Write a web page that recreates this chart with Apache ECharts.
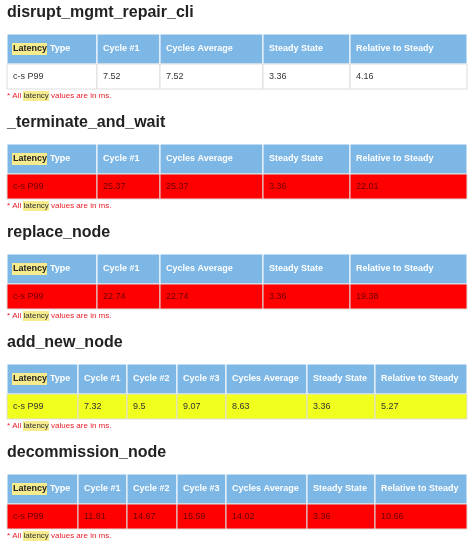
<!DOCTYPE html>
<html><head><meta charset="utf-8">
<script src="https://cdn.jsdelivr.net/npm/echarts@6/dist/echarts.min.js"></script>
<style>html,body{margin:0;background:#fff}#c{width:474px;height:553px}</style>
</head><body><div id="c"></div>
<script>
var titles = ['disrupt_mgmt_repair_cli', '_terminate_and_wait', 'replace_node', 'add_new_node', 'decommission_node'];
var headers5 = ['Latency Type', 'Cycle #1', 'Cycles Average', 'Steady State', 'Relative to Steady'];
var headers7 = ['Latency Type', 'Cycle #1', 'Cycle #2', 'Cycle #3', 'Cycles Average', 'Steady State', 'Relative to Steady'];
var rowValues = [
  ['c-s P99', '7.52', '7.52', '3.36', '4.16'],
  ['c-s P99', '25.37', '25.37', '3.36', '22.01'],
  ['c-s P99', '22.74', '22.74', '3.36', '19.38'],
  ['c-s P99', '7.32', '9.5', '9.07', '8.63', '3.36', '5.27'],
  ['c-s P99', '11.81', '14.67', '15.59', '14.02', '3.36', '10.66']
];
var rowColors = ['#ffffff', '#ff0000', '#ff0000', '#f0ff1e', '#ff0000'];

var widths5 = [90, 63, 103, 87, 117];
var widths7 = [71, 49, 50, 49, 81, 68, 92];
var font = 'Liberation Sans, Arial, sans-serif';

var g = [];
titles.forEach(function (t, s) {
  var top = s * 110;
  var hdr = rowValues[s].length === 5 ? headers5 : headers7;
  var ws = rowValues[s].length === 5 ? widths5 : widths7;
  g.push({type: 'text', left: 7, top: top + 5, style: {text: t, font: 'bold 16px ' + font, fill: '#222'}});
  var x = 7;
  hdr.forEach(function (h, i) {
    var w = ws[i];
    g.push({type: 'rect', shape: {x: x, y: top + 34, width: w, height: 30}, style: {fill: '#7db7e6', stroke: '#ffffff', lineWidth: 1}});
    g.push({type: 'rect', shape: {x: x, y: top + 64, width: w, height: 25}, style: {fill: rowColors[s], stroke: '#dddddd', lineWidth: 1}});
    if (i === 0) {
      g.push({type: 'rect', shape: {x: x + 5, y: top + 43, width: 35, height: 12}, style: {fill: '#f6ec8e'}});
      g.push({type: 'text', x: x + 6, y: top + 49, style: {text: 'Latency', font: 'bold 9px ' + font, fill: '#222', verticalAlign: 'middle'}});
      g.push({type: 'text', x: x + 43, y: top + 49, style: {text: 'Type', font: 'bold 9px ' + font, fill: '#ffffff', verticalAlign: 'middle'}});
    } else {
      g.push({type: 'text', x: x + 6, y: top + 49, style: {text: h, font: 'bold 9px ' + font, fill: '#ffffff', verticalAlign: 'middle'}});
    }
    g.push({type: 'text', x: x + 6, y: top + 77, style: {text: rowValues[s][i], font: '9px ' + font, fill: rowColors[s] === '#ff0000' ? '#6a0000' : '#333', verticalAlign: 'middle'}});
    x += w;
  });
  g.push({type: 'text', x: 7, y: top + 96, style: {text: '* All', font: '8px ' + font, fill: '#e8202a', verticalAlign: 'middle'}});
  g.push({type: 'rect', shape: {x: 23, y: top + 91, width: 26, height: 10}, style: {fill: '#f6ec8e'}});
  g.push({type: 'text', x: 23.5, y: top + 96, style: {text: 'latency', font: '8px ' + font, fill: '#333', verticalAlign: 'middle'}});
  g.push({type: 'text', x: 51, y: top + 96, style: {text: 'values are in ms.', font: '8px ' + font, fill: '#e8202a', verticalAlign: 'middle'}});
});

var chart = echarts.init(document.getElementById('c'));
chart.setOption({animation: false, graphic: g});
</script>
</body></html>
